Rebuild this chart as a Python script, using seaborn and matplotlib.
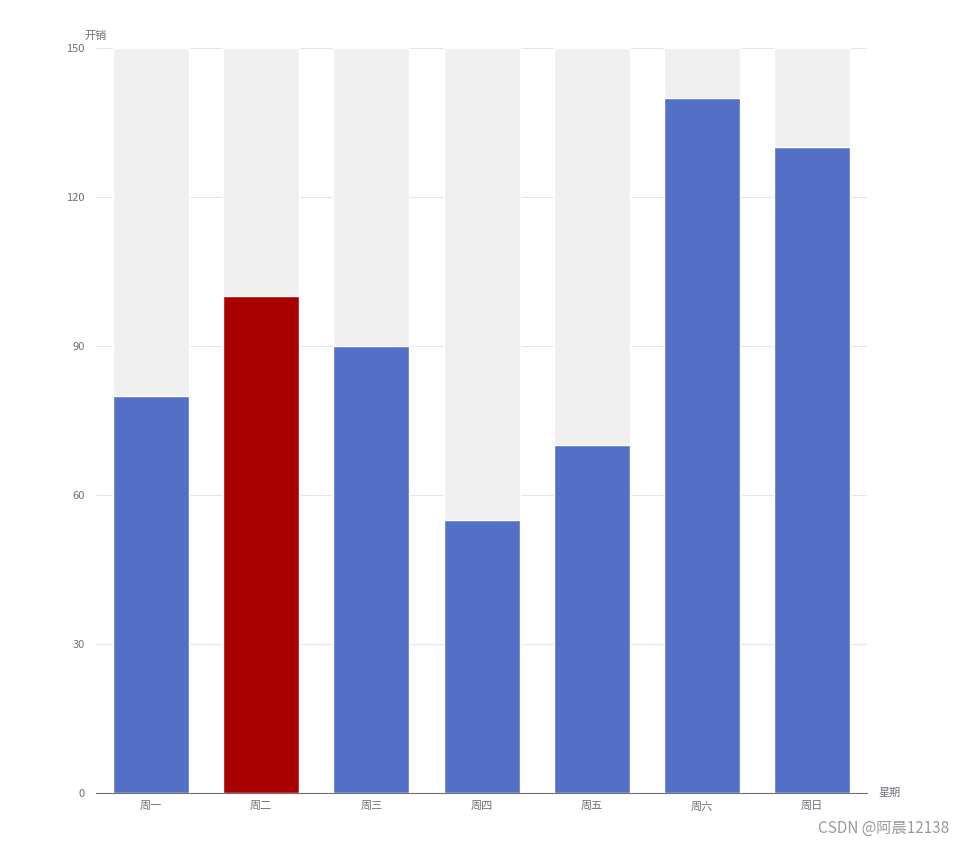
import matplotlib
matplotlib.use('Agg')
import matplotlib.pyplot as plt
import seaborn as sns
import pandas as pd
import numpy as np

days = ['周一', '周二', '周三', '周四', '周五', '周六', '周日']
values = [80, 100, 90, 55, 70, 140, 130]
bg_max = 150
colors = ['#5470c6', '#a90000', '#5470c6', '#5470c6', '#5470c6', '#5470c6', '#5470c6']

sns.set_style('white')
plt.rcParams['font.family'] = ['Noto Sans CJK SC', 'DejaVu Sans']

df = pd.DataFrame({'day': days, 'value': values, 'bg': [bg_max] * len(days)})

fig = plt.figure(figsize=(9.64, 8.5), dpi=100)
ax = fig.add_axes([0.0996, 0.0671, 0.7998, 0.8765])

sns.barplot(data=df, x='day', y='bg', color='#efefef', width=0.69, ax=ax,
            saturation=1, zorder=2)
sns.barplot(data=df, x='day', y='value', hue='day', palette=colors, legend=False,
            width=0.69, ax=ax, saturation=1, zorder=3)

ax.set_ylim(0, 150)
ax.set_xlim(-0.5, len(days) - 0.5)
ax.set_yticks([0, 30, 60, 90, 120, 150])
ax.yaxis.grid(True, color='#e0e6f1', linewidth=0.8, zorder=0)
ax.set_axisbelow(True)
for s in ['top', 'right', 'left']:
    ax.spines[s].set_visible(False)
ax.spines['bottom'].set_color('#6e7079')
ax.tick_params(axis='y', length=0, labelsize=8, colors='#6e7079', pad=8)
ax.tick_params(axis='x', length=0, labelsize=8, colors='#6e7079', pad=6)
ax.set_xticks(np.arange(-0.5, len(days)), minor=True)
ax.tick_params(axis='x', which='minor', length=4, color='#6e7079')
ax.set_xlabel('')
ax.set_ylabel('')

ax.text(0, 1.01, '开销', transform=ax.transAxes, fontsize=8, color='#6e7079',
        ha='center', va='bottom')
ax.text(1.015, 0, '星期', transform=ax.transAxes, fontsize=8, color='#6e7079',
        ha='left', va='center')
fig.text(0.985, 0.02, 'CSDN @阿晨12138', fontsize=11, color='#9a9a9a', ha='right')

fig.savefig('out.png', dpi=100)
